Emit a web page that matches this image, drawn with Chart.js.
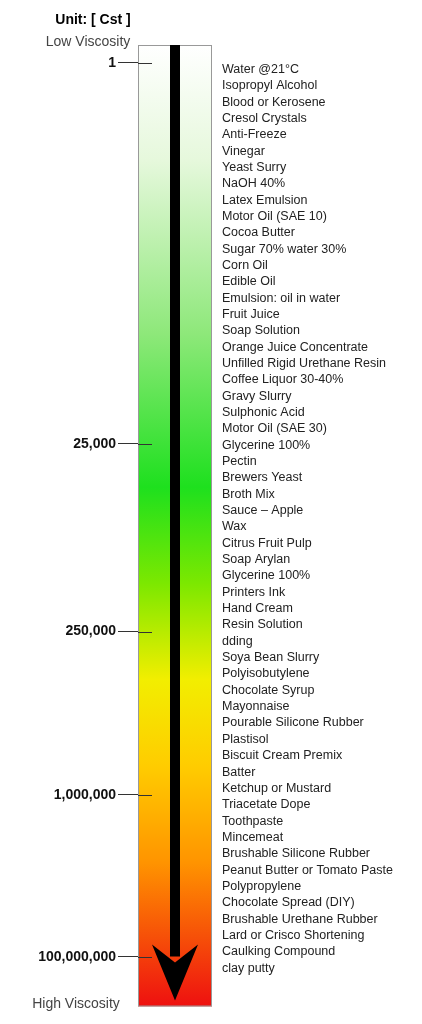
<!DOCTYPE html>
<html><head><meta charset="utf-8">
<script src="https://cdn.jsdelivr.net/npm/chart.js@4"></script>
<style>html,body{margin:0;padding:0;background:#fff}#w{width:422px;height:1024px}</style>
</head><body><div id="w"><canvas id="c"></canvas></div>
<script>
const items = ["Water @21°C","Isopropyl Alcohol","Blood or Kerosene","Cresol Crystals","Anti-Freeze","Vinegar","Yeast Surry","NaOH 40%","Latex Emulsion","Motor Oil (SAE 10)","Cocoa Butter","Sugar 70% water 30%","Corn Oil","Edible Oil","Emulsion: oil in water","Fruit Juice","Soap Solution","Orange Juice Concentrate","Unfilled Rigid Urethane Resin","Coffee Liquor 30-40%","Gravy Slurry","Sulphonic Acid","Motor Oil (SAE 30)","Glycerine 100%","Pectin","Brewers Yeast","Broth Mix","Sauce – Apple","Wax","Citrus Fruit Pulp","Soap Arylan","Glycerine 100%","Printers Ink","Hand Cream","Resin Solution","dding","Soya Bean Slurry","Polyisobutylene","Chocolate Syrup","Mayonnaise","Pourable Silicone Rubber","Plastisol","Biscuit Cream Premix","Batter","Ketchup or Mustard","Triacetate Dope","Toothpaste","Mincemeat","Brushable Silicone Rubber","Peanut Butter or Tomato Paste","Polypropylene","Chocolate Spread (DIY)","Brushable Urethane Rubber","Lard or Crisco Shortening","Caulking Compound","clay putty"];
const viscLabels = ["1","25,000","250,000","1,000,000","100,000,000"];
const viscPos = [-0.42, 22.9, 34.4, 44.4, 54.3];
const scaleMin = -1.5, scaleMax = 57.35;

function grad(ctx){
  const a=ctx.chart.chartArea; if(!a) return '#0f0';
  const g=ctx.chart.ctx.createLinearGradient(0,a.top,0,a.bottom);
  g.addColorStop(0,'#ffffff');g.addColorStop(0.12,'#e6f8dc');g.addColorStop(0.3,'#8ee87a');
  g.addColorStop(0.46,'#1ee01e');g.addColorStop(0.56,'#7ce800');g.addColorStop(0.66,'#f2ee00');
  g.addColorStop(0.75,'#ffcc00');g.addColorStop(0.85,'#ff9400');g.addColorStop(1,'#ee1010');
  return g;
}

const deco = {
  id:'deco',
  afterDatasetsDraw(ch){
    const a=ch.chartArea,c=ch.ctx,cx=(a.left+a.right)/2;
    c.save();
    c.strokeStyle='#999';c.lineWidth=1;c.strokeRect(a.left+0.5,a.top+0.5,a.right-a.left-1,a.bottom-a.top-1);
    const ys=ch.scales.y;
    c.strokeStyle='#333';c.lineWidth=1;
    viscPos.forEach(v=>{const y=Math.round(ys.getPixelForValue(v))+0.5;c.beginPath();c.moveTo(a.left,y);c.lineTo(a.left+14,y);c.stroke();});
    c.fillStyle='#000';
    c.fillRect(cx-5,a.top,10,a.bottom-a.top-50);
    c.beginPath();c.moveTo(cx-23,a.bottom-62);c.lineTo(cx,a.bottom-44);c.lineTo(cx+23,a.bottom-62);c.lineTo(cx,a.bottom-6);c.closePath();c.fill();
    c.font='bold 14px "Liberation Sans", Arial';c.textAlign='center';c.textBaseline='middle';
    c.fillStyle='#000';c.fillText('Unit: [ Cst ]',93,20);
    c.font='14px "Liberation Sans", Arial';c.fillStyle='#444';
    c.fillText('Low Viscosity',88,42);c.fillText('High Viscosity',76,1004);
    c.restore();
  }
};

new Chart(document.getElementById('c'),{
  type:'bar',
  data:{labels:['v'],datasets:[{data:[[scaleMin,scaleMax]],backgroundColor:grad,barPercentage:1,categoryPercentage:1,borderWidth:0}]},
  options:{
    responsive:true,maintainAspectRatio:false,animation:false,
    layout:{padding:{top:45,bottom:-10,left:0,right:0}},
    plugins:{legend:{display:false},tooltip:{enabled:false}},
    scales:{
      x:{display:false},
      y:{position:'left',reverse:true,min:scaleMin,max:scaleMax,
        afterBuildTicks:s=>{s.ticks=viscPos.map(v=>({value:v}));},
        afterFit:s=>{s.width=138;},
        border:{display:false},
        grid:{drawOnChartArea:false,tickLength:20,color:'#333'},
        ticks:{padding:2,color:'#111',font:{family:'"Liberation Sans", Arial',size:14,weight:'bold'},
          callback:(v,i)=>viscLabels[i]}},
      y2:{position:'right',reverse:true,min:scaleMin,max:scaleMax,
        afterBuildTicks:s=>{s.ticks=items.map((_,i)=>({value:i}));},
        afterFit:s=>{s.width=210;},
        border:{display:false},
        grid:{display:false,drawTicks:false},
        ticks:{padding:10,autoSkip:false,color:'#222',font:{family:'"Liberation Sans", Arial',size:12.5},
          callback:(v,i)=>items[i]}}
    }
  },
  plugins:[deco]
});
</script></body></html>
